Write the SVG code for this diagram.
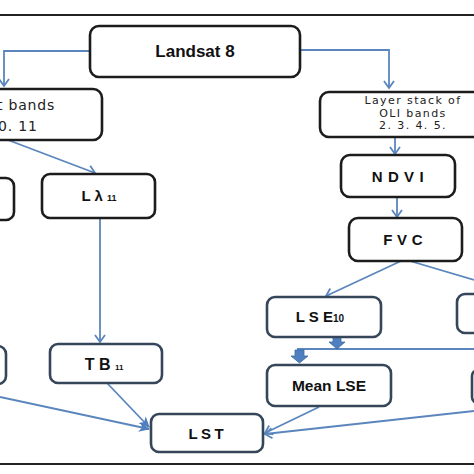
<svg xmlns="http://www.w3.org/2000/svg" width="474" height="474" viewBox="0 0 474 474">
<defs>
<style>
.box{fill:#fff;stroke:#1c1c1c;stroke-width:2.6}
.box2{fill:#fff;stroke:#35465a;stroke-width:2.6}
.t{font-family:"Liberation Sans",Arial,sans-serif;font-weight:bold;fill:#111;text-anchor:middle}
.tn{font-family:"DejaVu Sans","Liberation Sans",sans-serif;fill:#222;text-anchor:middle}
.c{fill:none;stroke:#5a86bd;stroke-width:1.8}
.blk{fill:#4f7fbf;stroke:#3d6aa5;stroke-width:0.8}
</style>
<marker id="ah" markerWidth="12" markerHeight="12" refX="9" refY="6" orient="auto" markerUnits="userSpaceOnUse">
<path d="M2,1 L9,6 L2,11" fill="none" stroke="#5a86bd" stroke-width="1.8"/>
</marker>
<marker id="ahf" markerWidth="12" markerHeight="12" refX="10" refY="6" orient="auto" markerUnits="userSpaceOnUse">
<path d="M0,1 L11,6 L0,11 L3,6 Z" fill="#4f7fbf"/>
</marker>
</defs>
<rect width="474" height="474" fill="#fff"/>
<line x1="0" y1="15" x2="474" y2="15" stroke="#222" stroke-width="2.2"/>
<line x1="0" y1="464" x2="474" y2="464" stroke="#222" stroke-width="2.2"/>

<g id="connectors">
<path class="c" d="M90,51 H4 V86" marker-end="url(#ah)"/>
<path class="c" d="M298,50 H389 V88" marker-end="url(#ah)"/>
<path class="c" d="M8,140 L95,173" marker-end="url(#ah)"/>
<path class="c" d="M100,218 V342" marker-end="url(#ah)"/>
<path class="c" d="M395,137 V154" marker-end="url(#ah)"/>
<path class="c" d="M397,197 V217" marker-end="url(#ah)"/>
<path class="c" d="M401,261 L326,296" marker-end="url(#ah)"/>
<path class="c" d="M410,261 L474,280"/>
<path class="c" d="M297,349 H474"/>
<path class="c" d="M107,383 L149,427" marker-end="url(#ahf)"/>
<path class="c" d="M0,397 L149,429" marker-end="url(#ahf)"/>
<path class="c" d="M319,407 L265,433" marker-end="url(#ah)"/>
<path class="c" d="M474,411 L265,434" marker-end="url(#ah)"/>
<path class="blk" d="M333,337 H341 V342 H345 L337,349 L329,342 H333 Z"/>
<path class="blk" d="M295,350 H304 V356 H308 L299.5,363 L291,356 H295 Z"/>
</g>

<g id="landsat8">
<rect class="box" x="90" y="26" width="210" height="51" rx="9"/>
<text class="t" x="195" y="57" font-size="17">Landsat 8</text>
</g>

<g id="thermal-bands">
<rect class="box" x="-20" y="89" width="122" height="51" rx="9"/>
<text class="tn" x="-3" y="110" font-size="14" letter-spacing="0.8" style="text-anchor:start">t bands</text>
<text class="tn" x="-2" y="131" font-size="14" letter-spacing="0.8" style="text-anchor:start">0. 11</text>
</g>

<g id="l-lambda-10">
<rect class="box" x="-20" y="178" width="34" height="42" rx="8"/>
</g>

<g id="l-lambda-11">
<rect class="box" x="42" y="174" width="113" height="44" rx="8"/>
<text class="t" x="99" y="201" font-size="15">L λ <tspan font-size="9">11</tspan></text>
</g>

<g id="tb10">
<rect class="box2" x="-20" y="346" width="26" height="38" rx="8"/>
</g>

<g id="tb11">
<rect class="box2" x="50" y="344" width="112" height="39" rx="8"/>
<text class="t" x="104" y="370" font-size="16">T B <tspan font-size="8">11</tspan></text>
</g>

<g id="lst">
<rect class="box2" x="151" y="414" width="112" height="38" rx="8"/>
<text class="t" x="206" y="439" font-size="15" letter-spacing="-0.3">L S T</text>
</g>

<g id="layer-stack-oli">
<rect class="box" x="320" y="92" width="162" height="45" rx="9"/>
<text class="tn" x="413" y="104" font-size="11" letter-spacing="1.4">Layer stack of</text>
<text class="tn" x="413" y="116.5" font-size="11" letter-spacing="1.4">OLI bands</text>
<text class="tn" x="413" y="129" font-size="11" letter-spacing="1.4">2. 3. 4. 5.</text>
</g>

<g id="ndvi">
<rect class="box" x="341" y="155" width="114" height="42" rx="9"/>
<text class="t" x="398" y="182" font-size="15" letter-spacing="0.6">N D V I</text>
</g>

<g id="fvc">
<rect class="box" x="349" y="218" width="113" height="43" rx="9"/>
<text class="t" x="403" y="245" font-size="15" letter-spacing="0.2">F V C</text>
</g>

<g id="lse10">
<rect class="box2" x="267" y="297" width="114" height="40" rx="8"/>
<text class="t" x="320" y="322" font-size="15">L S E<tspan font-size="10">10</tspan></text>
</g>

<g id="lse11">
<rect class="box2" x="457" y="294" width="40" height="39" rx="8"/>
</g>

<g id="mean-lse">
<rect class="box2" x="267" y="365" width="124" height="41" rx="8"/>
<text class="t" x="329" y="391" font-size="15.5">Mean LSE</text>
</g>

<g id="right-box">
<rect class="box2" x="472" y="370" width="30" height="33" rx="6"/>
</g>
</svg>
